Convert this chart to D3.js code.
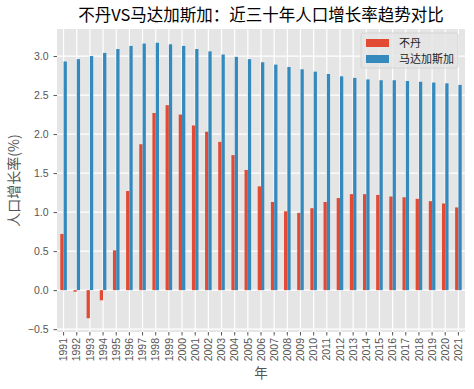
<!DOCTYPE html>
<html>
<head>
<meta charset="utf-8">
<script src="https://cdn.jsdelivr.net/npm/d3@7"></script>
<style>
  body { margin: 0; background: #fff; }
  svg { font-family: "Noto Sans CJK SC", "DejaVu Sans", sans-serif; }
</style>
</head>
<body>
<svg id="chart"></svg>
<script>
var years = d3.range(1991, 2022).map(String);
var seriesNames = ["不丹", "马达加斯加"];
var bhutan = [0.72, -0.02, -0.36, -0.13, 0.51, 1.27, 1.87, 2.27, 2.37, 2.25,
              2.11, 2.03, 1.90, 1.73, 1.54, 1.33, 1.13, 1.01, 0.99, 1.05,
              1.13, 1.18, 1.23, 1.23, 1.22, 1.20, 1.19, 1.17, 1.14, 1.11, 1.06];
var madagascar = [2.93, 2.96, 3.00, 3.04, 3.09, 3.13, 3.16, 3.17, 3.15, 3.13,
                  3.09, 3.06, 3.02, 2.99, 2.96, 2.92, 2.89, 2.86, 2.83, 2.80,
                  2.77, 2.74, 2.72, 2.70, 2.69, 2.69, 2.68, 2.67, 2.66, 2.65, 2.63];
var yTicks = [-0.5, 0, 0.5, 1.0, 1.5, 2.0, 2.5, 3.0];
var colors = ["#E24A33", "#348ABD"];

var W = 474, H = 389;
var margin = {top: 29, right: 9, bottom: 57, left: 57}
  , width = W - margin.left - margin.right
  , height = H - margin.top - margin.bottom;

var svg = d3.select("#chart").attr("width", W).attr("height", H);

var rows = years.map(function(y, i){
    return {year: y, values: [bhutan[i], madagascar[i]]};
});

var all = bhutan.concat(madagascar);
var lo = d3.min(all), hi = d3.max(all), pad = (hi - lo) * 0.05;

var xScale = d3.scaleBand().domain(years).range([0, width])
    .paddingInner(0.5).paddingOuter(0.25);
var xSub = d3.scaleBand().domain([0, 1]).range([0, xScale.bandwidth()]);
var yScale = d3.scaleLinear().domain([lo - pad, hi + pad]).range([height, 0]);

var g = svg.append("g")
    .attr("transform", "translate(" + margin.left + "," + margin.top + ")");

g.append("rect").attr("width", width).attr("height", height).attr("fill", "#E5E5E5");

// grid
g.selectAll(".vgrid").data(years).enter().append("line")
    .attr("x1", function(d){ return xScale(d) + xScale.bandwidth() / 2; })
    .attr("x2", function(d){ return xScale(d) + xScale.bandwidth() / 2; })
    .attr("y1", 0).attr("y2", height)
    .attr("stroke", "#fff").attr("stroke-width", 1.2);
g.selectAll(".hgrid").data(yTicks).enter().append("line")
    .attr("x1", 0).attr("x2", width)
    .attr("y1", function(d){ return yScale(d); })
    .attr("y2", function(d){ return yScale(d); })
    .attr("stroke", "#fff").attr("stroke-width", 1.2);

// bars
var groups = g.selectAll(".yr").data(rows).enter().append("g")
    .attr("transform", function(d){ return "translate(" + xScale(d.year) + ",0)"; });
groups.selectAll("rect").data(function(d){ return d.values; }).enter().append("rect")
    .attr("x", function(d, i){ return xSub(i); })
    .attr("width", xSub.bandwidth())
    .attr("y", function(d){ return yScale(Math.max(0, d)); })
    .attr("height", function(d){ return Math.abs(yScale(d) - yScale(0)); })
    .attr("fill", function(d, i){ return colors[i]; });

// axes
var xAxis = g.append("g")
    .attr("transform", "translate(0," + height + ")")
    .call(d3.axisBottom(xScale).tickSize(3.5).tickPadding(3));
xAxis.select(".domain").remove();
xAxis.selectAll("line").attr("stroke", "#555");
xAxis.selectAll("text")
    .attr("transform", "rotate(-90)")
    .attr("text-anchor", "end")
    .attr("x", -6).attr("y", 0).attr("dy", "0.35em")
    .attr("fill", "#555").style("font-size", "10.5px");

var yAxis = g.append("g")
    .call(d3.axisLeft(yScale).tickValues(yTicks).tickFormat(d3.format(".1f"))
        .tickSize(3.5).tickPadding(5));
yAxis.select(".domain").remove();
yAxis.selectAll("line").attr("stroke", "#555");
yAxis.selectAll("text").attr("fill", "#555").style("font-size", "10.5px");

// labels
svg.append("text").attr("x", margin.left + width / 2).attr("y", 21)
    .attr("text-anchor", "middle").style("font-size", "16.5px").attr("fill", "#000")
    .text("不丹VS马达加斯加：近三十年人口增长率趋势对比");
svg.append("text").attr("x", margin.left + width / 2).attr("y", 378)
    .attr("text-anchor", "middle").style("font-size", "13.5px").attr("fill", "#555")
    .text("年");
svg.append("text")
    .attr("transform", "translate(19," + (margin.top + height / 2) + ") rotate(-90)")
    .attr("text-anchor", "middle").style("font-size", "14px").attr("fill", "#555")
    .text("人口增长率(%)");

// legend
var lg = svg.append("g").attr("transform", "translate(361,33)");
lg.append("rect").attr("width", 97).attr("height", 35).attr("rx", 2)
    .attr("fill", "#E5E5E5").attr("fill-opacity", 0.8).attr("stroke", "#d4d4d4");
seriesNames.forEach(function(name, i){
    lg.append("rect").attr("x", 5).attr("y", 6 + i * 16)
        .attr("width", 23).attr("height", 8).attr("fill", colors[i]);
    lg.append("text").attr("x", 38).attr("y", 10 + i * 16).attr("dy", "0.35em")
        .style("font-size", "11px").attr("fill", "#222").text(name);
});
</script>
</body>
</html>
